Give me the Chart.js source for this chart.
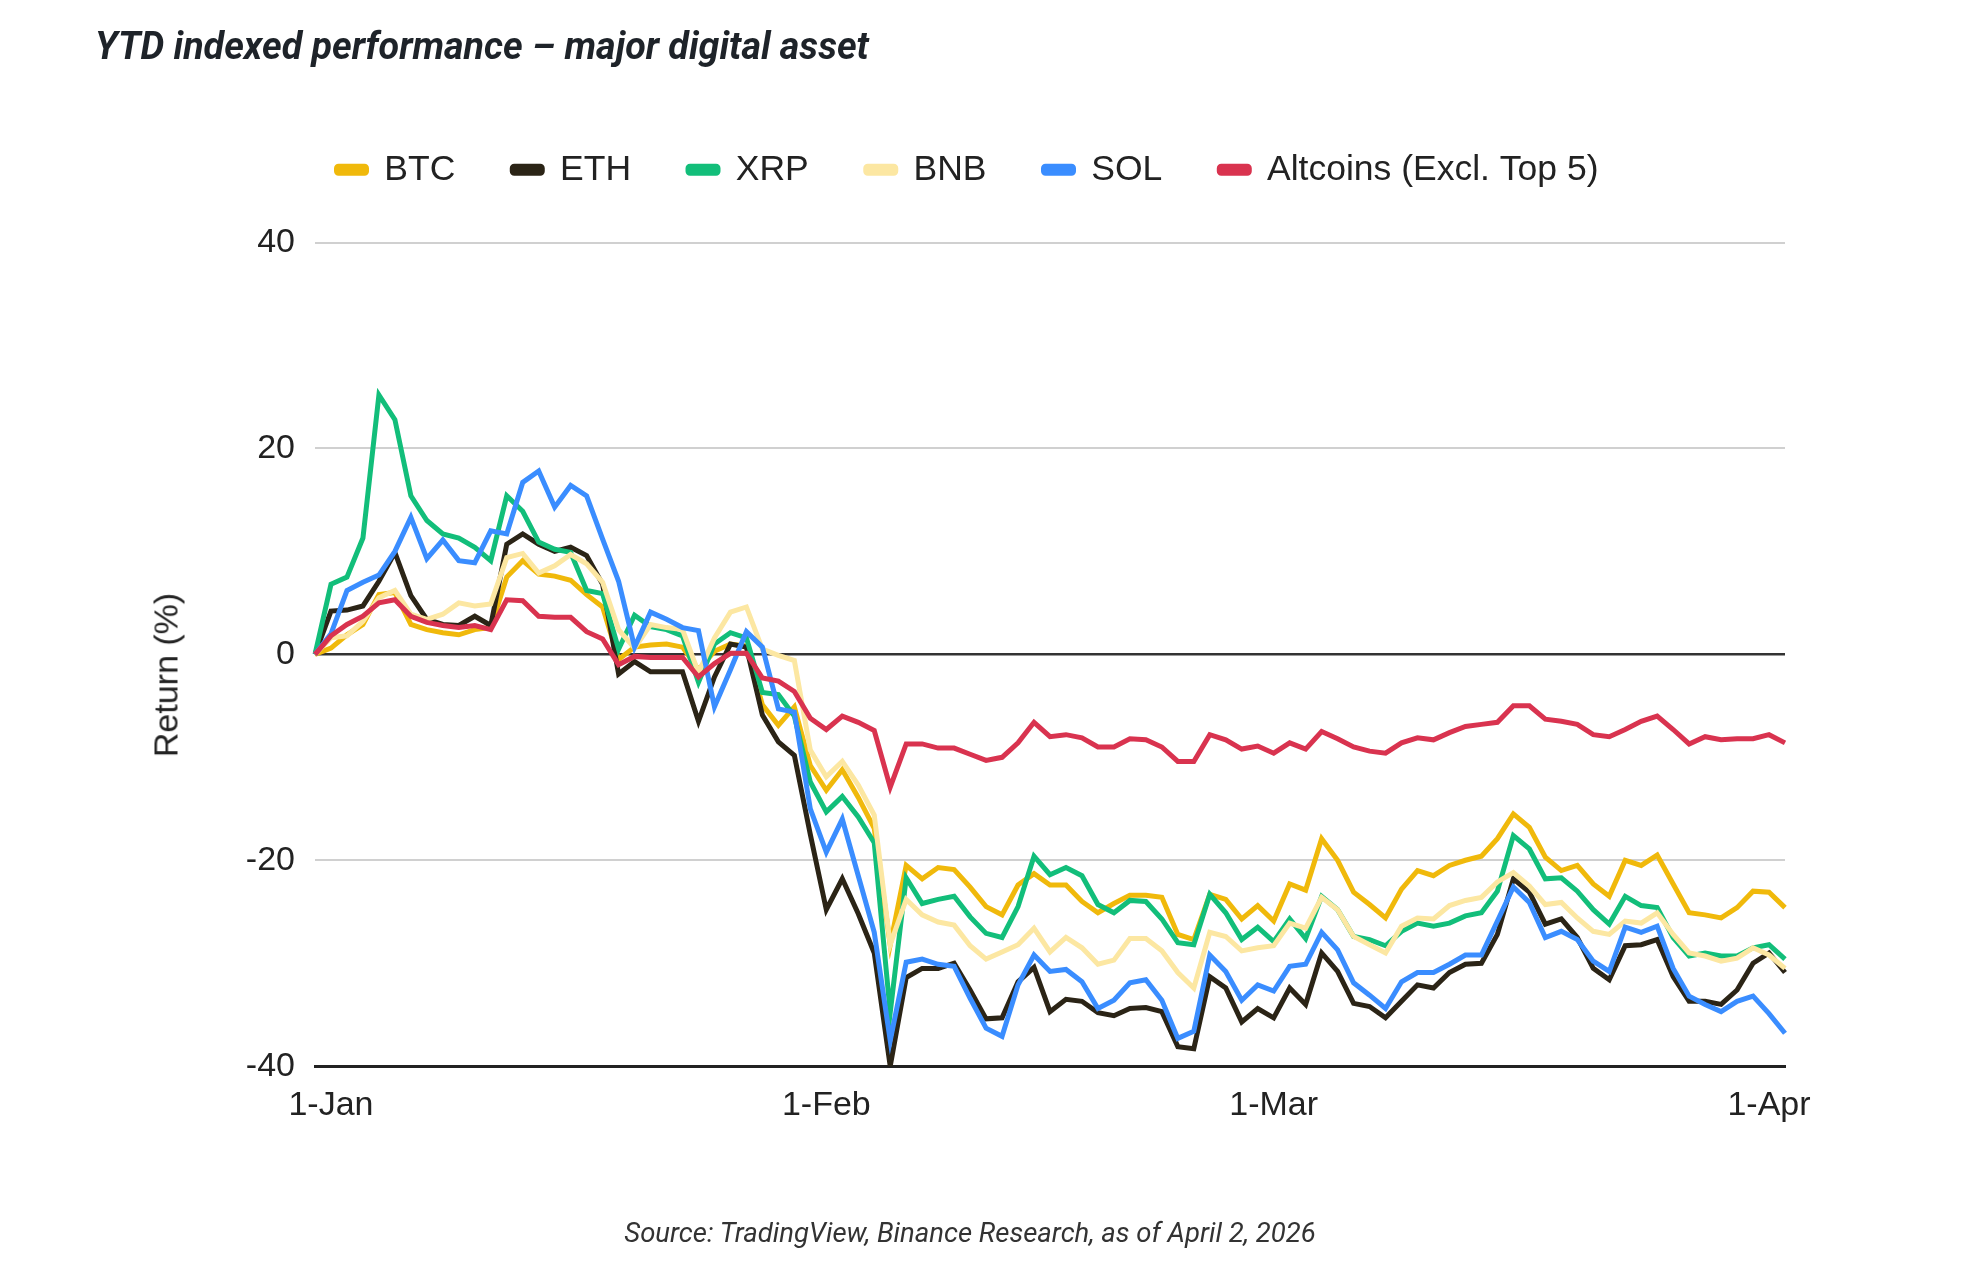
<!DOCTYPE html>
<html>
<head>
<meta charset="utf-8">
<script src="https://cdn.jsdelivr.net/npm/chart.js@4.4.1/dist/chart.umd.min.js"></script>
<style>
  html, body { margin: 0; padding: 0; background: #fff; }
  #wrap { position: relative; width: 1976px; height: 1272px; }
  #title {
    position: absolute; left: 95px; top: 24px;
    font: italic bold 38px Roboto, sans-serif; color: #1e2329;
    white-space: nowrap; transform: scaleX(0.99); transform-origin: left top;
  }
  #source {
    position: absolute; left: 0; top: 1216px; width: 1940px; text-align: center;
    font: italic 27.5px Roboto, sans-serif; color: #333;
    white-space: nowrap;
  }
  #ytitle {
    position: absolute; left: 166px; top: 675px;
    font: 34px 'Liberation Sans', Arial, sans-serif; color: #222;
    white-space: nowrap; transform: translate(-50%, -50%) rotate(-90deg);
  }
  canvas { position: absolute; left: 0; top: 0; }
</style>
</head>
<body>
<div id="wrap">
  <canvas id="chart" width="1976" height="1272"></canvas>
  <div id="title">YTD indexed performance – major digital asset</div>
  <div id="ytitle">Return (%)</div>
  <div id="source">Source: TradingView, Binance Research, as of April 2, 2026</div>
</div>
<script>
// daily points, 31-Dec .. 2-Apr
var months = ['Jan','Feb','Mar','Apr','May','Jun','Jul','Aug','Sep','Oct','Nov','Dec'];
var dates = [];
for (var d = new Date(2025, 11, 31); dates.length < 93; d.setDate(d.getDate() + 1)) {
  dates.push(d.getDate() + '-' + months[d.getMonth()]);
}
var tickLabels = ['1-Jan', '1-Feb', '1-Mar', '1-Apr'];

var btc = [0,0.6,1.9,2.9,5.8,6.0,2.9,2.4,2.1,1.9,2.4,2.6,7.5,9.1,7.8,7.6,7.2,5.8,4.6,-0.5,
  0.7,0.9,1.0,0.7,-1.5,0.3,1.0,0.8,-4.9,-6.9,-5.1,-10.8,-13.2,-11.2,-13.9,-16.9,-28.2,-20.5,-21.8,-20.7,
  -20.9,-22.6,-24.5,-25.3,-22.4,-21.3,-22.4,-22.4,-24.0,-25.1,-24.2,-23.4,-23.4,-23.6,-27.2,-27.7,-23.3,-23.8,-25.7,-24.4,
  -25.9,-22.3,-22.9,-17.9,-20.0,-23.1,-24.3,-25.6,-22.8,-21.0,-21.5,-20.5,-20.0,-19.6,-17.9,-15.5,-16.8,-19.7,-21.0,-20.5,
  -22.3,-23.5,-20.0,-20.5,-19.5,-22.3,-25.1,-25.3,-25.6,-24.6,-23.0,-23.1,-24.6];
var eth = [0,4.2,4.3,4.7,7.1,9.9,5.7,3.4,2.9,2.8,3.7,2.8,10.7,11.7,10.7,10.0,10.4,9.6,6.8,-1.9,
  -0.7,-1.7,-1.7,-1.7,-6.5,-2.2,1.0,0.7,-5.9,-8.5,-9.8,-17.5,-24.8,-21.8,-25.2,-29.0,-40.0,-31.4,-30.5,-30.5,
  -30.0,-32.6,-35.4,-35.3,-31.8,-30.4,-34.7,-33.5,-33.7,-34.8,-35.1,-34.4,-34.3,-34.7,-38.1,-38.3,-31.3,-32.4,-35.7,-34.4,
  -35.3,-32.4,-34.0,-29.0,-30.8,-33.9,-34.2,-35.3,-33.7,-32.1,-32.4,-30.9,-30.1,-30.0,-27.2,-21.8,-23.1,-26.2,-25.7,-27.5,
  -30.5,-31.6,-28.3,-28.2,-27.7,-31.3,-33.7,-33.7,-34.0,-32.6,-30.0,-29.0,-30.9];
var xrp = [0,6.8,7.5,11.3,25.2,22.8,15.4,13.0,11.7,11.3,10.4,9.1,15.4,13.9,10.9,10.2,9.9,6.2,5.9,0.5,
  3.8,2.7,2.4,1.8,-2.7,1.0,2.1,1.6,-3.7,-3.9,-6.0,-12.4,-15.3,-13.8,-15.8,-18.3,-34.8,-21.7,-24.2,-23.8,
  -23.5,-25.5,-27.1,-27.5,-24.5,-19.6,-21.4,-20.7,-21.5,-24.3,-25.1,-23.9,-24.0,-25.7,-28.0,-28.2,-23.3,-25.1,-27.7,-26.5,
  -27.9,-25.7,-27.6,-23.5,-24.8,-27.4,-27.7,-28.3,-26.9,-26.1,-26.4,-26.1,-25.4,-25.1,-23.0,-17.6,-18.9,-21.8,-21.7,-23.0,
  -24.8,-26.2,-23.5,-24.4,-24.6,-27.5,-29.3,-29.0,-29.3,-29.3,-28.5,-28.2,-29.6];
var bnb = [0,1.6,1.8,3.2,5.5,6.2,3.9,3.4,3.9,5.0,4.7,4.9,9.4,9.8,7.9,8.6,9.7,8.8,7.0,2.4,
  0.6,2.9,2.6,2.4,-1.8,1.6,4.1,4.6,0.5,-0.1,-0.6,-9.3,-11.9,-10.4,-12.7,-15.6,-28.2,-23.8,-25.3,-26.0,
  -26.3,-28.3,-29.6,-28.9,-28.2,-26.6,-28.9,-27.5,-28.5,-30.1,-29.7,-27.6,-27.6,-28.8,-30.9,-32.4,-27.0,-27.4,-28.8,-28.5,
  -28.3,-26.1,-26.6,-23.6,-24.8,-27.4,-28.2,-29.0,-26.4,-25.6,-25.7,-24.4,-23.9,-23.6,-22.1,-21.2,-22.5,-24.3,-24.1,-25.6,
  -26.9,-27.2,-25.9,-26.1,-25.1,-27.2,-29.0,-29.3,-29.8,-29.5,-28.5,-29.2,-30.5];
var sol = [0,2.0,6.2,7.0,7.7,10.0,13.3,9.3,11.1,9.1,8.9,12.0,11.7,16.7,17.8,14.3,16.4,15.4,11.2,7.1,
  0.7,4.1,3.4,2.6,2.3,-5.1,-1.5,2.2,0.7,-5.3,-5.6,-15.0,-19.2,-16.0,-21.5,-27.0,-37.5,-29.9,-29.6,-30.1,
  -30.3,-33.4,-36.3,-37.1,-32.1,-29.2,-30.8,-30.6,-31.8,-34.4,-33.6,-31.9,-31.6,-33.6,-37.3,-36.6,-29.2,-30.8,-33.6,-32.1,
  -32.7,-30.3,-30.1,-27.0,-28.7,-31.9,-33.1,-34.4,-31.8,-30.9,-30.9,-30.1,-29.2,-29.2,-25.9,-22.6,-24.1,-27.5,-26.9,-27.7,
  -29.8,-30.8,-26.5,-27.0,-26.4,-30.5,-33.2,-34.0,-34.7,-33.7,-33.2,-34.9,-36.8];
var alts = [0,1.8,2.9,3.7,5.0,5.3,3.7,3.1,2.8,2.6,2.8,2.4,5.3,5.2,3.7,3.6,3.6,2.2,1.5,-1.0,
  -0.2,-0.3,-0.3,-0.3,-2.2,-0.9,0.1,0.1,-2.3,-2.6,-3.6,-6.2,-7.3,-6.0,-6.6,-7.4,-12.9,-8.7,-8.7,-9.1,
  -9.1,-9.7,-10.3,-10.0,-8.6,-6.6,-8.0,-7.8,-8.1,-9.0,-9.0,-8.2,-8.3,-9.0,-10.4,-10.4,-7.8,-8.3,-9.2,-8.9,
  -9.6,-8.6,-9.2,-7.5,-8.2,-9.0,-9.4,-9.6,-8.6,-8.1,-8.3,-7.6,-7.0,-6.8,-6.6,-5.0,-5.0,-6.3,-6.5,-6.8,
  -7.8,-8.0,-7.3,-6.5,-6.0,-7.3,-8.7,-8.0,-8.3,-8.2,-8.2,-7.8,-8.6];

var seriesNames = ['BTC', 'ETH', 'XRP', 'BNB', 'SOL', 'Altcoins (Excl. Top 5)'];
var seriesData = [btc, eth, xrp, bnb, sol, alts];
var colors = ['#F0B90B', '#2B2416', '#12BE7A', '#FCE7A2', '#3A8DFF', '#D9334F'];

var FONT = "'Liberation Sans', Arial, sans-serif";

// push the plot down a bit under the legend
var legendGap = {
  id: 'legendGap',
  beforeInit: function(chart) {
    var fit = chart.legend.fit;
    chart.legend.fit = function() {
      fit.bind(chart.legend)();
      this.height += 45;
    };
  }
};

var ctx = document.getElementById('chart').getContext('2d');
var myChart = new Chart(ctx, {
  type: 'line',
  data: {
    labels: dates,
    datasets: seriesNames.map(function(name, i) {
      return {
        label: name,
        data: seriesData[i],
        borderColor: colors[i],
        backgroundColor: colors[i],
        borderWidth: 5,
        pointRadius: 0,
        tension: 0,
        fill: false,
        order: seriesNames.length - i
      };
    })
  },
  options: {
    responsive: false,
    animation: false,
    devicePixelRatio: 1,
    layout: { padding: { top: 95, left: 150, right: 191, bottom: 127 } },
    plugins: {
      legend: {
        position: 'top',
        labels: {
          boxWidth: 30,
          boxHeight: 7,
          useBorderRadius: true,
          borderRadius: 2,
          padding: 57,
          color: '#222',
          font: { family: FONT, size: 35.5 },
          sort: function(a, b) { return a.datasetIndex - b.datasetIndex; }
        }
      },
      tooltip: { enabled: false }
    },
    scales: {
      x: {
        grid: { display: false, drawTicks: false },
        border: { display: true, color: '#222', width: 3 },
        ticks: {
          autoSkip: false,
          maxRotation: 0,
          padding: 19,
          color: '#222',
          font: { family: FONT, size: 34 },
          callback: function(v, i) {
            return tickLabels.indexOf(dates[i]) >= 0 ? dates[i] : null;
          }
        }
      },
      y: {
        min: -40,
        max: 40,
        afterFit: function(scale) { scale.width = 165; },
        border: { display: false },
        grid: {
          drawTicks: false,
          color: function(c) { return c.tick.value === 0 || c.tick.value === -40 ? '#333' : '#d0d0d0'; },
          lineWidth: function(c) { return c.tick.value === 0 ? 2.5 : 2; }
        },
        ticks: {
          stepSize: 20,
          padding: 20,
          color: '#222',
          font: { family: FONT, size: 34 }
        }
      }
    }
  },
  plugins: [legendGap]
});
</script>
</body>
</html>
